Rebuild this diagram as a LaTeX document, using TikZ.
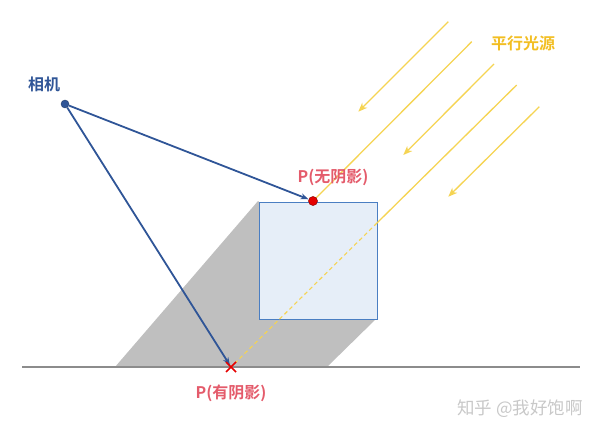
\documentclass[tikz,border=0pt]{standalone}
\usepackage{fontspec}
\setmainfont{Noto Sans CJK SC}[BoldFont={Noto Sans CJK SC Bold}]
\usetikzlibrary{arrows.meta}
\definecolor{camblue}{HTML}{2F5597}
\definecolor{boxfill}{HTML}{E6EEF8}
\definecolor{boxline}{HTML}{4A7EC2}
\definecolor{shadowgray}{HTML}{BFBFBF}
\definecolor{groundgray}{HTML}{8C8C8C}
\definecolor{labelred}{HTML}{E45B6B}
\definecolor{raygold}{HTML}{F5D453}
\definecolor{lightgold}{HTML}{F2BE22}
\definecolor{wmgray}{HTML}{C8C8C8}
\tikzset{
  camray/.style={draw=camblue, line width=1.8pt, -{Stealth[length=8pt,width=6pt]}},
  lightray/.style={draw=raygold, line width=1.3pt},
  lightarrow/.style={lightray, -{Stealth[length=9pt,width=7pt,inset=2.5pt]}},
  lbl/.style={font=\fontsize{16}{18}\selectfont\bfseries, inner sep=0pt},
  crossline/.style={draw=red!90!black, line width=1.6pt},
}
\begin{document}
\begin{tikzpicture}[x=1pt,y=-1pt]
\useasboundingbox (0,0) rectangle (600,433);
% shadow
\fill[shadowgray] (258,201) -- (377,318) -- (327,367) -- (115,367) -- cycle;
% ground
\draw[groundgray, line width=1.6pt] (22,367) -- (580,367);
% box
\node[draw=boxline, fill=boxfill, line width=1.8pt, minimum width=118pt, minimum height=117pt, inner sep=0pt, anchor=north west] (box) at (258.5,201.5) {};
% points
\coordinate (rayA) at (471.7,41.7);
\coordinate (rayB) at (516.7,85);
\coordinate (boxhit) at (377,223);
\coordinate (X) at (231,367);
\node[circle, fill=camblue, draw=camblue!70!black, minimum size=8pt, inner sep=0pt] (cam) at (65,104) {};
% light rays
\draw[lightray] (rayA) -- (313,201);
\draw[lightray] (rayB) -- (boxhit);
\draw[lightray, dash pattern=on 4pt off 3pt, line width=1.1pt] (boxhit) -- (X);
\coordinate (r1s) at (448.3,21.7); \coordinate (r1e) at (358.3,111.7);
\coordinate (r3s) at (494,64);     \coordinate (r3e) at (403.3,155);
\coordinate (r5s) at (539.3,106.7); \coordinate (r5e) at (448.3,196.7);
\draw[lightarrow] (r1s) -- (r1e);
\draw[lightarrow] (r3s) -- (r3e);
\draw[lightarrow] (r5s) -- (r5e);
\node[circle, fill=red!90!black, draw=red!55!black, line width=0.5pt, minimum size=9pt, inner sep=0pt] (P) at (313,201) {};
% camera rays
\draw[camray] (cam) -- (P);
\draw[camray, shorten >=2pt] (cam) -- (X);
% cross
\draw[crossline] ([shift={(-5,-5)}]X) -- ([shift={(5,5)}]X);
\draw[crossline] ([shift={(-5,5)}]X) -- ([shift={(5,-5)}]X);
% labels
\node[lbl, text=camblue] (camlbl) at (44,84) {相机};
\node[lbl, text=labelred] (Plbl) at (333,177) {P(无阴影)};
\node[lbl, text=labelred] (Xlbl) at (231,393) {P(有阴影)};
\node[lbl, text=lightgold] (srclbl) at (523,43) {平行光源};
\node[font=\fontsize{17.5}{20}\selectfont, text=wmgray, inner sep=0pt] (wm) at (520,409) {知乎 @我好饱啊};
\end{tikzpicture}
\end{document}
